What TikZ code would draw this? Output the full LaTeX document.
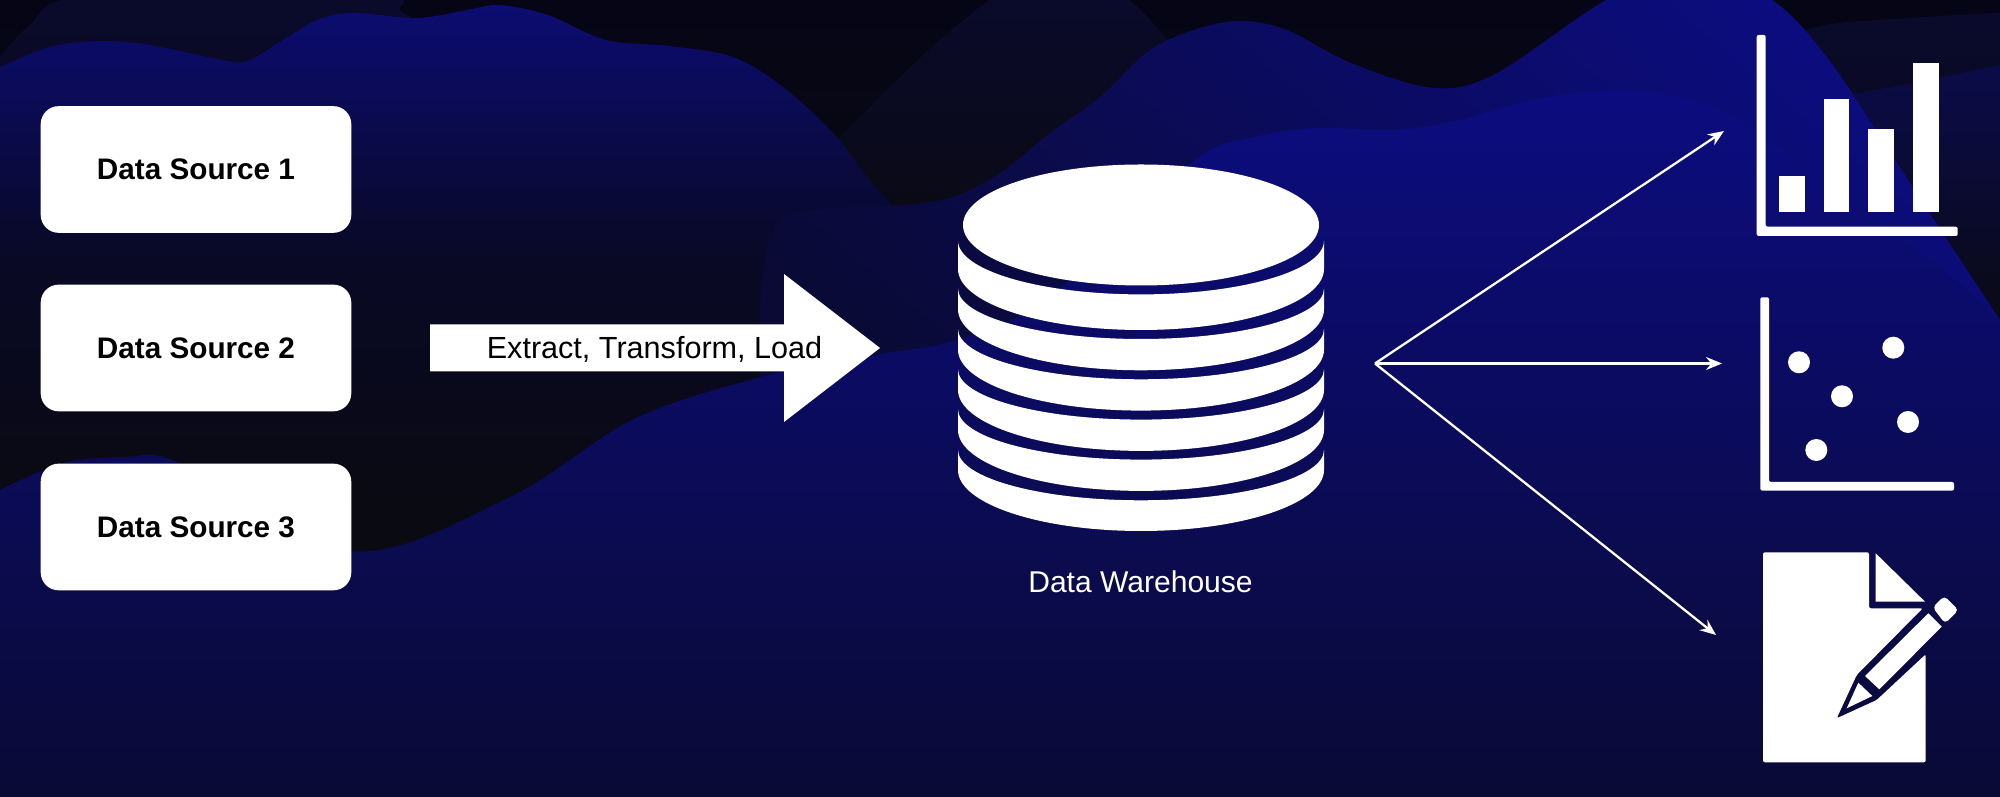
\documentclass[tikz,border=0pt]{standalone}
\usepackage{fontspec}
\setmainfont{Liberation Sans}
\usetikzlibrary{arrows.meta}

\definecolor{inkblack}{HTML}{0A0A12}
\definecolor{backnavy}{HTML}{0A0A2C}
\definecolor{deepnavy}{HTML}{0A0A34}
\definecolor{midnavy}{HTML}{0B0B4A}
\definecolor{leftnavy}{HTML}{0C0C72}
\definecolor{brightnavy}{HTML}{0C0C80}

\begin{document}
\begin{tikzpicture}[
    srcbox/.style={fill=white, rounded corners=.18cm, minimum width=3.106cm, minimum height=1.267cm, inner sep=0pt, font=\fontsize{8.45}{10}\selectfont\bfseries, text=black},
    icon/.style={fill=white, rounded corners=.02cm},
    flow/.style={draw=white, line width=.65pt, -{Stealth[length=.16cm,width=.13cm]}},
    >=stealth
]
\useasboundingbox (0,0) rectangle (20,7.97);
\clip (0,0) rectangle (20,7.97);

% Background waves
\shade[top color=black!50!backnavy, bottom color=inkblack] (0,5) rectangle (20,7.97);
\fill[inkblack] (0,0) rectangle (20,5);
\shade[top color=backnavy, bottom color=inkblack] plot[smooth] coordinates {(-.1,7.3) (0,7.40) (.3,7.72) (.83,8.0) (3.8,8.0) (4.0,7.87) (4.2,7.7) (4.3,7.4)} -- (4.3,5) -- (-.1,5) -- cycle;
\shade[top color=backnavy, bottom color=inkblack] plot[smooth] coordinates {(8.2,6.4) (9.0,7.2) (9.6,7.74) (10.1,8.05) (11.13,8.05) (11.67,7.57) (12,7)} -- (12,5.5) -- (8.2,5.5) -- cycle;
\shade[top color=backnavy, bottom color=inkblack] plot[smooth] coordinates {(17.8,7.7) (18.03,7.67) (18.48,7.75) (20.1,7.85)} -- (20.1,4.6) -- (17.8,4.6) -- cycle;
\shade[top color=midnavy, bottom color=inkblack] plot[smooth] coordinates {(18.2,6.9) (18.5,7.02) (19.13,7.14) (20.1,7.34)} -- (20.1,4.6) -- (18.2,4.6) -- cycle;
\shade[top color=leftnavy, bottom color=inkblack, middle color=black!15!backnavy] plot[smooth, tension=.55] coordinates {(-.1,7.25) (0,7.30) (.5,7.50) (1,7.56) (1.5,7.52) (2.17,7.38) (2.47,7.36) (2.83,7.57) (3.17,7.77) (3.53,7.84) (4.17,7.79) (4.67,7.87) (5,7.92) (5.48,7.82) (6.06,7.57) (6.70,7.51) (7.33,7.40) (7.83,7.10) (8.33,6.64) (8.67,6.2) (8.92,5.92) (9.2,5.6)} -- (9.2,2.9) -- (-.1,2.9) -- cycle;
\shade[top color=brightnavy, bottom color=deepnavy, shading angle=-40] plot[smooth, tension=.55] coordinates {(7.6,4.4) (7.62,5.2) (7.8,5.77) (8.33,5.89) (8.92,5.91) (9.50,5.99) (10.00,6.24) (10.50,6.64) (11,7.0) (11.5,7.47) (12,7.69) (12.42,7.76) (12.87,7.67) (13.51,7.34) (14.34,7.09) (14.97,7.24) (16.06,7.97) (16.9,8.3) (17.72,7.97) (18.29,7.37) (18.93,6.40) (20,4.77) (20.2,4.5)} -- (20.2,2.9) -- (7.6,2.9) -- cycle;
\shade[top color=brightnavy, middle color=midnavy, bottom color=deepnavy] plot[smooth, tension=.55] coordinates {(-.1,3.0) (0,3.07) (.64,3.34) (1.28,3.40) (1.79,3.34) (3.51,2.46) (5.10,3.0) (6.38,3.80) (7.84,4.26) (8.80,4.43) (9.57,4.57) (10.5,5.0) (11.91,6.34) (12.55,6.60) (13.19,6.69) (13.95,6.67) (14.59,6.77) (15.42,6.99) (16.25,7.06) (17.02,6.94) (17.53,6.67) (18.13,6.27) (18.80,5.74) (19.47,5.24) (20,4.75) (20.2,4.5)} -- (20.2,-.1) -- (-.1,-.1) -- cycle;

% Data sources
\foreach \i/\y in {1/6.275,2/4.49,3/2.70} {
    \node[srcbox] (src\i) at (1.96,\y) {Data Source \i};
}

% ETL arrow
\fill[white] (4.30,4.725) -- (7.84,4.725) -- (7.84,5.23) -- (8.80,4.49) -- (7.84,3.75) -- (7.84,4.255) -- (4.30,4.255) -- cycle;
\node[font=\fontsize{8.7}{10}\selectfont, text=black] (etl) at (6.545,4.48) {Extract, Transform, Load};

% Warehouse
\fill[white] (11.41,5.72) ellipse [x radius=1.78, y radius=.605];
\foreach \ytop/\ymid/\dip in {5.563/5.28/.537,5.083/4.877/.503,4.68/4.474/.503,4.277/4.071/.503,3.877/3.671/.503,3.47/3.27/.503} {
    \fill[white] (9.58,\ytop) -- (9.58,\ymid) arc[start angle=180, end angle=360, x radius=1.83, y radius=.61] -- (13.24,\ytop) arc[start angle=0, end angle=-180, x radius=1.83, y radius=\dip] -- cycle;
}
\node[font=\fontsize{8.55}{10}\selectfont, text=white] (dw) at (11.405,2.15) {Data Warehouse};

% Connections
\coordinate (fan) at (13.75,4.335);
\coordinate (barTip) at (17.24,6.66);
\coordinate (scatterTip) at (17.22,4.335);
\coordinate (noteTip) at (17.16,1.62);
\draw[flow] (fan) -- (barTip);
\draw[flow] (fan) -- (scatterTip);
\draw[flow] (fan) -- (noteTip);

% Bar chart
\fill[icon] (17.567,7.62) -- (17.657,7.62) -- (17.657,5.703) -- (19.577,5.703) -- (19.577,5.61) -- (17.567,5.61) -- cycle;
\foreach \x/\y in {17.793/6.21,18.237/6.977,18.683/6.68,19.133/7.337} {
    \fill[white] (\x,5.847) rectangle ++(.256,\y-5.847);
}

% Scatter plot
\fill[icon] (17.603,4.997) -- (17.69,4.997) -- (17.69,3.15) -- (19.54,3.15) -- (19.54,3.063) -- (17.603,3.063) -- cycle;
\foreach \x/\y in {17.99/4.347,18.933/4.493,18.42/4.007,19.08/3.75,18.163/3.47} {
    \fill[white] (\x,\y) circle (.11);
}

% Report
\fill[icon] (17.63,2.447) -- (18.69,2.447) -- (18.69,1.887) -- (19.227,1.887) -- (18.567,1.22) -- (18.367,.787) -- (18.767,.97) -- (19.257,1.427) -- (19.257,.347) -- (17.63,.347) -- cycle;
\fill[white] (18.757,2.437) -- (18.757,1.953) -- (19.25,1.953) -- cycle;
\fill[white] (18.65,1.21) -- (19.283,1.837) -- (19.417,1.703) -- (18.793,1.077) -- cycle;
\fill[white] (18.467,.887) -- (18.583,1.143) -- (18.723,1.01) -- cycle;
\fill[white, rounded corners=.04cm] (19.327,1.897) -- (19.443,2.01) -- (19.585,1.87) -- (19.45,1.735) -- cycle;
\end{tikzpicture}
\end{document}
